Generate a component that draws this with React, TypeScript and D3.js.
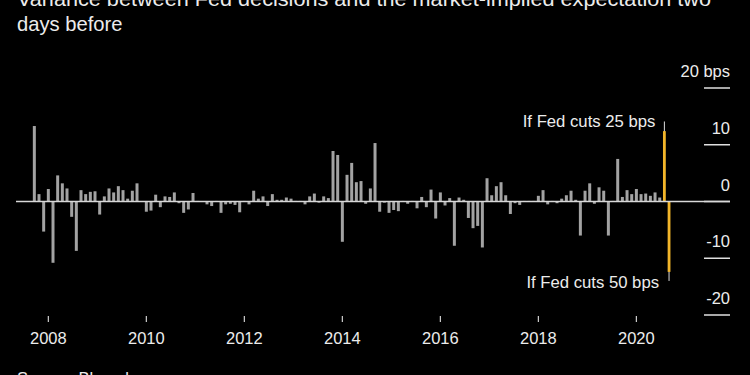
import React from "react";
import * as d3 from "d3";

// variance (bps) per FOMC decision, late 2007 -> 2020
const variance = [
  13.3, 1.3, -5.3, 2.2, -10.8, 4.6, 3.2, 2.3, -2.7, -8.7,
  2.0, 1.3, 1.7, 1.8, -2.3, 0.9, 2.3, 1.6, 2.7, 2.0,
  0.5, 1.9, 3.2, 0, -1.8, -1.6, 1.2, -1.0, 0.9, 0.8,
  1.6, -0.3, -2.0, -1.4, 1.5, 0.1, 0, -0.5, -0.8, 0.1,
  -2.0, -0.5, -0.4, -0.6, -1.9, 0.1, -0.5, 1.9, 0.5, 0.9,
  -0.8, 1.3, 0.3, 0.3, 0.7, 0.5, 0.1, 0.1, -0.5, 0.9,
  1.4, -0.2, 0.9, 0.6, 8.9, 8.2, -7.1, 4.7, 6.8, 3.4,
  3.6, -0.4, 2.3, 10.3, -1.8, -0.2, -2.0, -1.5, -1.7, 0.1,
  -0.4, 0.1, -1.2, 0.8, -1.0, 2.1, -3.0, 1.6, -0.7, 0.6,
  -7.8, 0.7, 0.3, -2.9, -4.7, -4.3, -8.1, 4.1, 1.1, 2.7,
  3.4, 1.1, -2.2, -0.3, -0.6, 0.1, 0.1, 0.1, 1.0, 2.0,
  -0.5, 0.1, -0.3, 0.5, 1.1, 1.9, 0.3, -6.0, 1.9, 3.2,
  -0.4, 2.5, 1.9, -6.0, 0.1, 7.5, 0.8, 2.0, 1.3, 2.2,
  1.3, 1.4, 1.0, 1.6, 0.7,
];

// upcoming decision scenarios
const scenarioLabels = ["If Fed cuts 25 bps", "If Fed cuts 50 bps"];
const scenarioValues = [12.4, -12.4];
const scenarioLeader = [14.1, -14.0];

const yearLabels = ["2008", "2010", "2012", "2014", "2016", "2018", "2020"];
const yearSlots = [3, 24, 45, 66, 87, 108, 129]; // first decision of each year

const yTicks = [20, 10, 0, -10, -20];

const W = 750, H = 375;
const FONT = "'Liberation Sans', Arial, Helvetica, sans-serif";
const TEXT = "#ececec";

export default function App() {
  const n = variance.length + scenarioValues.length;
  const x = d3.scaleBand<number>()
    .domain(d3.range(n))
    .range([32, 32 + n * 4.667])
    .paddingInner(0.36)
    .paddingOuter(0.18);
  const y = d3.scaleLinear().domain([-20, 20]).range([315, 88]);
  const bw = x.bandwidth();
  const cx = (i: number) => (x(i) as number) + bw / 2;

  return (
    <div style={{ position: "absolute", left: 0, top: 0 }}>
      <svg width={W} height={H} style={{ display: "block", background: "#000" }}>
        <rect width={W} height={H} fill="#000" />
        <g fontFamily={FONT} fill={TEXT}>
          <text x={17} y={6} fontSize={20.5} textLength={694} lengthAdjust="spacingAndGlyphs">
            Variance between Fed decisions and the market-implied expectation two
          </text>
          <text x={17} y={30.5} fontSize={20.2}>days before</text>
        </g>

        {/* y axis: labels above short rules at right */}
        {yTicks.map((t) => (
          <g key={t}>
            <line x1={704} x2={730} y1={y(t)} y2={y(t)} stroke="#e0e0e0" strokeWidth={1.5} />
            <text x={730} y={y(t) - 11} textAnchor="end" fontSize={16.5} fontFamily={FONT} fill={TEXT}>
              {t === 20 ? "20 bps" : t}
            </text>
          </g>
        ))}

        {/* history bars */}
        {variance.map((v, i) => (
          <rect
            key={i}
            x={x(i)}
            y={y(Math.max(0, v))}
            width={bw}
            height={Math.abs(y(v) - y(0))}
            fill="#a3a3a3"
          />
        ))}

        {/* scenario bars */}
        {scenarioValues.map((v, j) => {
          const i = variance.length + j;
          return (
            <g key={"s" + j}>
              <line x1={cx(i)} x2={cx(i)} y1={y(0)} y2={y(scenarioLeader[j])} stroke="#dddddd" strokeWidth={1} />
              <rect
                x={cx(i) - 1.4}
                y={y(Math.max(0, v))}
                width={2.8}
                height={Math.abs(y(v) - y(0))}
                fill="#f2b52a"
              />
            </g>
          );
        })}

        <line x1={16} x2={730} y1={y(0)} y2={y(0)} stroke="#d8d8d8" strokeWidth={1.5} />

        {/* scenario annotations */}
        <text x={cx(variance.length) - 9} y={127} textAnchor="end" fontSize={16.7} fontFamily={FONT} fill={TEXT}>
          {scenarioLabels[0]}
        </text>
        <text x={cx(variance.length + 1) - 10} y={288} textAnchor="end" fontSize={16.7} fontFamily={FONT} fill={TEXT}>
          {scenarioLabels[1]}
        </text>

        {/* x axis */}
        {yearLabels.map((lab, k) => (
          <g key={lab} transform={`translate(${cx(yearSlots[k])},0)`}>
            <line y1={316} y2={322} stroke="#cfcfcf" strokeWidth={1.2} />
            <text y={344} textAnchor="middle" fontSize={16.5} fontFamily={FONT} fill={TEXT}>
              {lab}
            </text>
          </g>
        ))}

        <text x={17} y={384} fontSize={16.5} fontFamily={FONT} fill={TEXT}>
          Source: Bloomberg
        </text>
      </svg>
    </div>
  );
}
